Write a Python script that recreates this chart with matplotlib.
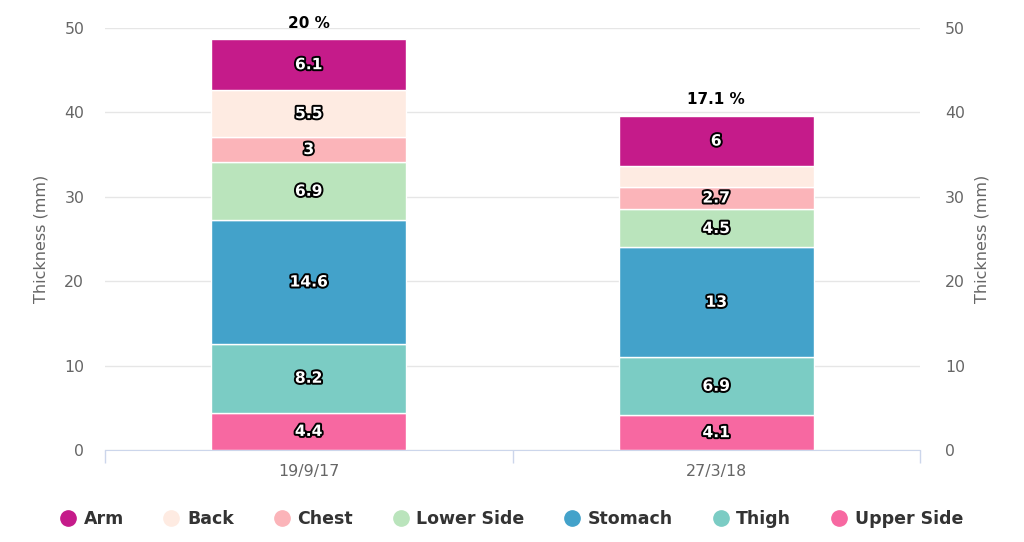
import matplotlib
matplotlib.use("Agg")
import matplotlib.pyplot as plt
import matplotlib.patheffects as pe
from matplotlib.lines import Line2D
import numpy as np

plt.rcParams['font.family'] = ['DejaVu Sans']

categories = ["19/9/17", "27/3/18"]
series_names = ["Upper Side", "Thigh", "Stomach", "Lower Side", "Chest", "Back", "Arm"]
upper_side = [4.4, 4.1]
thigh = [8.2, 6.9]
stomach = [14.6, 13]
lower_side = [6.9, 4.5]
chest = [3, 2.7]
back = [5.5, 2.4]
arm = [6.1, 6]
totals_pct = ["20 %", "17.1 %"]
show_label = {"Back": [True, False]}

colors = {
    "Arm": "#c51b8a", "Back": "#feebe2", "Chest": "#fbb4b9",
    "Lower Side": "#bae4bc", "Stomach": "#43a2ca", "Thigh": "#7bccc4",
    "Upper Side": "#f768a1",
}
values = [upper_side, thigh, stomach, lower_side, chest, back, arm]

fig = plt.figure(figsize=(10.24, 5.42), dpi=100)
ax = fig.add_axes([105/1024, 1-450/542, 815/1024, 422/542])
x = np.arange(len(categories))
width = 0.478
bottom = np.zeros(len(categories))
outline = [pe.withStroke(linewidth=2.8, foreground="black")]
for name, vals in zip(series_names, values):
    vals = np.array(vals, dtype=float)
    ax.bar(x, vals, width, bottom=bottom, color=colors[name], edgecolor="white",
           linewidth=1, zorder=3)
    for i, v in enumerate(vals):
        if show_label.get(name, [True]*len(vals))[i]:
            ax.text(x[i], bottom[i] + v/2, f"{v:g}", ha="center", va="center",
                    color="white", fontsize=11.2, fontweight="bold",
                    path_effects=outline, zorder=5)
    bottom += vals

for i, t in enumerate(totals_pct):
    ax.text(x[i], bottom[i] + 1.0, t, ha="center", va="bottom", fontsize=11,
            fontweight="bold", color="black", zorder=5)

ax.set_xlim(-0.5, len(categories) - 0.5)
ax.set_ylim(0, 50)
ax.set_yticks(range(0, 51, 10))
ax.grid(axis="y", color="#e6e6e6", linewidth=1, zorder=0)
ax.set_axisbelow(True)
for s in ["top", "left", "right"]:
    ax.spines[s].set_visible(False)
ax.spines["bottom"].set_color("#ccd6eb")
ax.spines["bottom"].set_zorder(4)
ax.set_xticks(x)
ax.set_xticklabels(categories, color="#666666", fontsize=11.4)
ax.tick_params(axis="x", length=0, pad=10)
ax.set_xticks([-0.5, 0.5, 1.5], minor=True)
ax.tick_params(axis="x", which="minor", length=9.5, color="#ccd6eb", width=1)
ax.tick_params(axis="y", length=0, labelcolor="#666666", labelsize=11.3, pad=15)
ax.set_ylabel("Thickness (mm)", color="#666666", fontsize=11.5, labelpad=11)

ax2 = ax.twinx()
ax2.set_ylim(0, 50)
ax2.set_yticks(range(0, 51, 10))
for s in ["top", "left", "right", "bottom"]:
    ax2.spines[s].set_visible(False)
ax2.tick_params(axis="y", length=0, labelcolor="#666666", labelsize=11.3, pad=18)
ax2.set_ylabel("Thickness (mm)", color="#666666", fontsize=11.5, rotation=90, labelpad=7)

legend_order = ["Arm", "Back", "Chest", "Lower Side", "Stomach", "Thigh", "Upper Side"]
handles = [Line2D([0], [0], marker="o", linestyle="none", markersize=11,
                  markerfacecolor=colors[n], markeredgecolor=colors[n]) for n in legend_order]
leg = fig.legend(handles, legend_order, loc="center", bbox_to_anchor=(0.5, 1-519/542),
                 ncol=7, frameon=False, handlelength=0.8, handletextpad=0.5,
                 columnspacing=2.35, prop={"weight": "bold", "size": 12.5})
for t in leg.get_texts():
    t.set_color("#333333")

fig.savefig("out.png", dpi=100)
